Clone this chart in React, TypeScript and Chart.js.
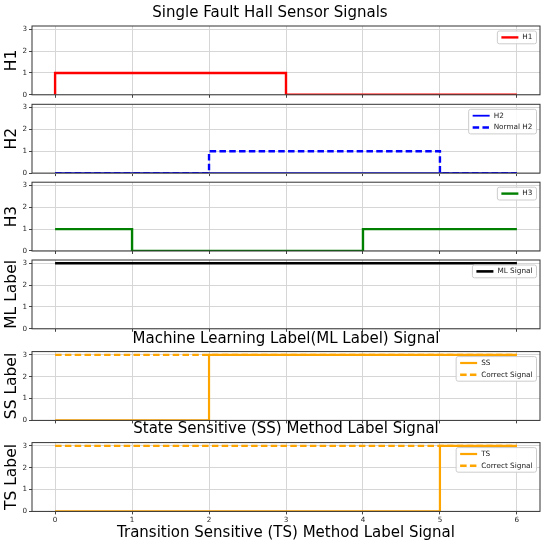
import { useEffect, useRef } from "react"
import { Chart, registerables } from "chart.js"
import type { Plugin } from "chart.js"

Chart.register(...registerables)

const FONT = "'DejaVu Sans', 'Liberation Sans', sans-serif"

// sample positions on the shared x axis
const steps = [0, 1, 2, 3, 4, 5, 6]
const h1Steps = [0, 0, 1, 2, 3, 4, 5, 6]

// signal levels (step "post": each value holds until the next sample)
const h1 = [0, 1, 1, 1, 0, 0, 0, 0]
const h2 = [0, 0, 0, 0, 0, 0, 0]
const normalH2 = [0, 0, 1, 1, 1, 0, 0]
const h3 = [1, 0, 0, 0, 1, 1, 1]
const mlSignal = [3, 3, 3, 3, 3, 3, 3]
const ssLabel = [0, 0, 3, 3, 3, 3, 3]
const tsLabel = [0, 0, 0, 0, 0, 3, 3]
const correctSignal = [3, 3, 3, 3, 3, 3, 3]

const xTicks = [0, 1, 2, 3, 4, 5, 6]
const yTicks = [0, 1, 2, 3]

type Series = {
  label: string
  xs: number[]
  ys: number[]
  color: string
  width: number
  dash?: number[]
}

type Panel = {
  top: number
  yTitle: string
  xHeight: number
  series: Series[]
  title?: string
  xTitle?: string
  xLabels?: boolean
}

const PANEL_H = 68.8
const DASH = [6.5, 3.3]
const RED = "#ff0000"
const BLUE = "#0000ff"
const GREEN = "#008000"
const ORANGE = "#ffa500"

const panels: Panel[] = [
  {
    top: 26,
    yTitle: "H1",
    title: "Single Fault Hall Sensor Signals",
    xHeight: 4,
    series: [{ label: "H1", xs: h1Steps, ys: h1, color: RED, width: 2.4 }],
  },
  {
    top: 104.3,
    yTitle: "H2",
    xHeight: 4,
    series: [
      { label: "H2", xs: steps, ys: h2, color: BLUE, width: 1.8 },
      { label: "Normal H2", xs: steps, ys: normalH2, color: BLUE, width: 2.4, dash: DASH },
    ],
  },
  {
    top: 182.2,
    yTitle: "H3",
    xHeight: 4,
    series: [{ label: "H3", xs: steps, ys: h3, color: GREEN, width: 2.4 }],
  },
  {
    top: 260,
    yTitle: "ML Label",
    xHeight: 18.9,
    xTitle: "Machine Learning Label(ML Label) Signal",
    series: [{ label: "ML Signal", xs: steps, ys: mlSignal, color: "#000000", width: 2.6 }],
  },
  {
    top: 351.6,
    yTitle: "SS Label",
    xHeight: 18.1,
    xTitle: "State Sensitive (SS) Method Label Signal",
    series: [
      { label: "SS", xs: steps, ys: ssLabel, color: ORANGE, width: 2.2 },
      { label: "Correct Signal", xs: steps, ys: correctSignal, color: ORANGE, width: 2.4, dash: DASH },
    ],
  },
  {
    top: 442.6,
    yTitle: "TS Label",
    xHeight: 30.6,
    xTitle: "Transition Sensitive (TS) Method Label Signal",
    xLabels: true,
    series: [
      { label: "TS", xs: steps, ys: tsLabel, color: ORANGE, width: 2.2 },
      { label: "Correct Signal", xs: steps, ys: correctSignal, color: ORANGE, width: 2.4, dash: DASH },
    ],
  },
]

// matplotlib-like frame + boxed legend in the upper right corner
const frameLegend: Plugin<"line"> = {
  id: "frameLegend",
  afterDatasetsDraw(chart) {
    const { ctx, chartArea } = chart
    ctx.save()
    ctx.strokeStyle = "#333333"
    ctx.lineWidth = 1
    ctx.strokeRect(chartArea.left, chartArea.top, chartArea.right - chartArea.left, chartArea.bottom - chartArea.top)

    const sets = chart.data.datasets
    ctx.font = `7.3px ${FONT}`
    const rowH = 11.8
    const textW = Math.max(...sets.map((d) => ctx.measureText(String(d.label)).width))
    const w = 4 + 17 + 4 + textW + 4
    const h = sets.length * rowH + 1
    const x = chartArea.right - 3.5 - w
    const y = chartArea.top + 5
    ctx.fillStyle = "rgba(255,255,255,0.85)"
    ctx.strokeStyle = "#cccccc"
    ctx.beginPath()
    ctx.roundRect(x, y, w, h, 2)
    ctx.fill()
    ctx.stroke()
    sets.forEach((d, i) => {
      const cy = y + 0.5 + rowH * (i + 0.5)
      ctx.strokeStyle = d.borderColor as string
      ctx.lineWidth = d.borderWidth as number
      ctx.setLineDash((d.borderDash as number[]) ?? [])
      ctx.beginPath()
      ctx.moveTo(x + 4, cy)
      ctx.lineTo(x + 21, cy)
      ctx.stroke()
      ctx.setLineDash([])
      ctx.fillStyle = "#222222"
      ctx.textBaseline = "middle"
      ctx.textAlign = "left"
      ctx.fillText(String(d.label), x + 25, cy)
    })
    ctx.restore()
  },
}

function SignalPanel({ panel }: { panel: Panel }) {
  const canvasRef = useRef<HTMLCanvasElement>(null)
  const chartRef = useRef<Chart | null>(null)

  const canvasTop = panel.title ? 0 : Math.floor(panel.top - 8)
  const areaTop = panel.top - canvasTop
  const height = Math.ceil(areaTop + PANEL_H + panel.xHeight + 3)
  const padBottom = height - areaTop - PANEL_H - panel.xHeight

  useEffect(() => {
    if (!canvasRef.current) return
    if (chartRef.current) chartRef.current.destroy()

    const grid = { color: "#d6d6d6", lineWidth: 1, tickColor: "#444444", tickLength: 3 }
    const tickFont = { family: FONT, size: 7.2 }

    chartRef.current = new Chart(canvasRef.current, {
      type: "line",
      data: {
        datasets: panel.series.map((s) => ({
          label: s.label,
          data: s.xs.map((x, i) => ({ x, y: s.ys[i] })),
          borderColor: s.color,
          backgroundColor: s.color,
          borderWidth: s.width,
          borderDash: s.dash ?? [],
          stepped: "before" as const,
          pointRadius: 0,
          fill: false,
          clip: 0,
        })),
      },
      options: {
        animation: false,
        responsive: true,
        maintainAspectRatio: false,
        layout: { padding: { left: 0, right: 6, top: panel.title ? 0 : areaTop, bottom: padBottom } },
        plugins: {
          legend: { display: false },
          tooltip: { enabled: false },
          title: {
            display: !!panel.title,
            text: panel.title ?? "",
            color: "#000000",
            font: { family: FONT, size: 15, weight: "normal", lineHeight: 1.2 },
            padding: { top: 4, bottom: 4 },
          },
        },
        scales: {
          x: {
            type: "linear",
            min: -0.3,
            max: 6.3,
            afterBuildTicks: (s) => {
              s.ticks = xTicks.map((v) => ({ value: v }))
            },
            afterFit: (s) => {
              s.height = panel.xHeight
            },
            ticks: { display: !!panel.xLabels, font: tickFont, color: "#262626", padding: 1.5, maxRotation: 0 },
            grid,
            border: { display: false },
            title: {
              display: !!panel.xTitle,
              text: panel.xTitle ?? "",
              color: "#000000",
              font: { family: FONT, size: 15, lineHeight: 1.2 },
              padding: 0,
            },
          },
          y: {
            type: "linear",
            min: 0,
            max: 3.15,
            afterBuildTicks: (s) => {
              s.ticks = yTicks.map((v) => ({ value: v }))
            },
            afterFit: (s) => {
              s.width = 32
            },
            ticks: { font: tickFont, color: "#262626", padding: 2 },
            grid,
            border: { display: false },
            title: {
              display: true,
              text: panel.yTitle,
              color: "#000000",
              font: { family: FONT, size: 15.5, lineHeight: 1.2 },
              padding: { top: 2.5, bottom: 0 },
            },
          },
        },
      },
      plugins: [frameLegend],
    })

    return () => {
      if (chartRef.current) {
        chartRef.current.destroy()
        chartRef.current = null
      }
    }
  }, [])

  return (
    <div style={{ position: "absolute", left: 0, top: canvasTop, width: 546, height }}>
      <canvas ref={canvasRef}></canvas>
    </div>
  )
}

export default function App() {
  return (
    <div style={{ position: "absolute", left: 0, top: 0, width: 546, height: 550, background: "#ffffff", overflow: "hidden" }}>
      {panels.map((p) => (
        <SignalPanel key={p.yTitle} panel={p} />
      ))}
    </div>
  )
}
